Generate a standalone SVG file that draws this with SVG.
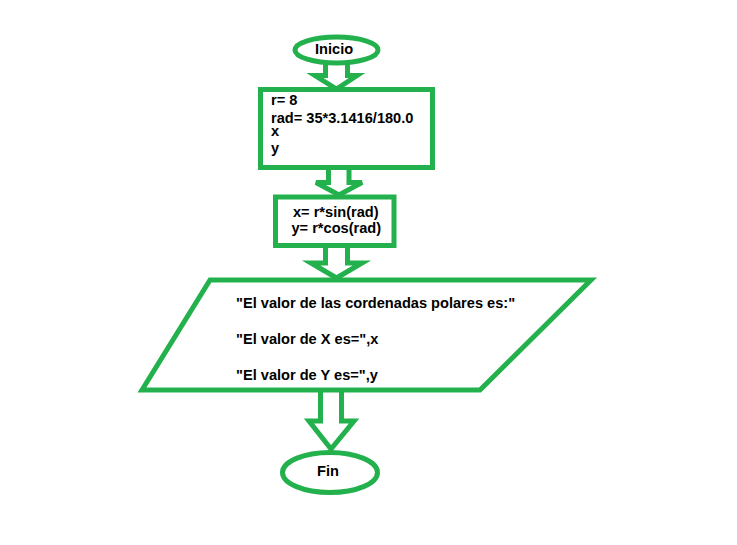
<svg xmlns="http://www.w3.org/2000/svg" width="737" height="545" viewBox="0 0 737 545">
<style>
.s{fill:#ffffff;stroke:#22b14c;stroke-width:5;stroke-linejoin:miter}
.a{fill:none;stroke:#22b14c;stroke-width:5;stroke-linejoin:miter}
.t{font-family:"Liberation Sans",Arial,sans-serif;font-weight:bold;font-size:14.6px;fill:#000000}
</style>
<rect width="737" height="545" fill="#ffffff"/>
<g id="connectors">
<polyline class="a" points="325.5,62 325.5,75.5 315,75.5 336.5,89 357,75.5 347.5,75.5 347.5,62"/>
<polyline class="a" points="328.5,167 328.5,182.5 316,182.5 339,195 362,182.5 349,182.5 349,167"/>
<polyline class="a" points="325.5,245 325.5,263 311,263 336.5,278 362,263 347.5,263 347.5,245"/>
<polyline class="a" points="320.5,390 320.5,421 309,421 331,449 354,421 341.5,421 341.5,390"/>
</g>
<g id="inicio">
<ellipse class="s" cx="336.5" cy="50" rx="41.5" ry="13"/>
<text class="t" x="315" y="53.5">Inicio</text>
</g>
<g id="init">
<rect class="s" x="260.5" y="89.5" width="172" height="78"/>
<text class="t" x="271" y="104.5">r= 8</text>
<text class="t" x="271" y="122.5">rad= 35*3.1416/180.0</text>
<text class="t" x="271" y="135.5">x</text>
<text class="t" x="271" y="152.5">y</text>
</g>
<g id="calc">
<rect class="s" x="275.5" y="197" width="118.5" height="48.5"/>
<text class="t" x="293" y="216.5">x= r*sin(rad)</text>
<text class="t" x="291.5" y="233">y= r*cos(rad)</text>
</g>
<g id="output">
<polygon class="s" points="210,280 591,280 480,390 142,390"/>
<text class="t" x="236" y="308">"El valor de las cordenadas polares es:"</text>
<text class="t" x="236" y="344">"El valor de X es=",x</text>
<text class="t" x="236" y="380">"El valor de Y es=",y</text>
</g>
<g id="fin">
<ellipse class="s" cx="330" cy="472.5" rx="47.5" ry="20"/>
<text class="t" x="317" y="476">Fin</text>
</g>
</svg>
